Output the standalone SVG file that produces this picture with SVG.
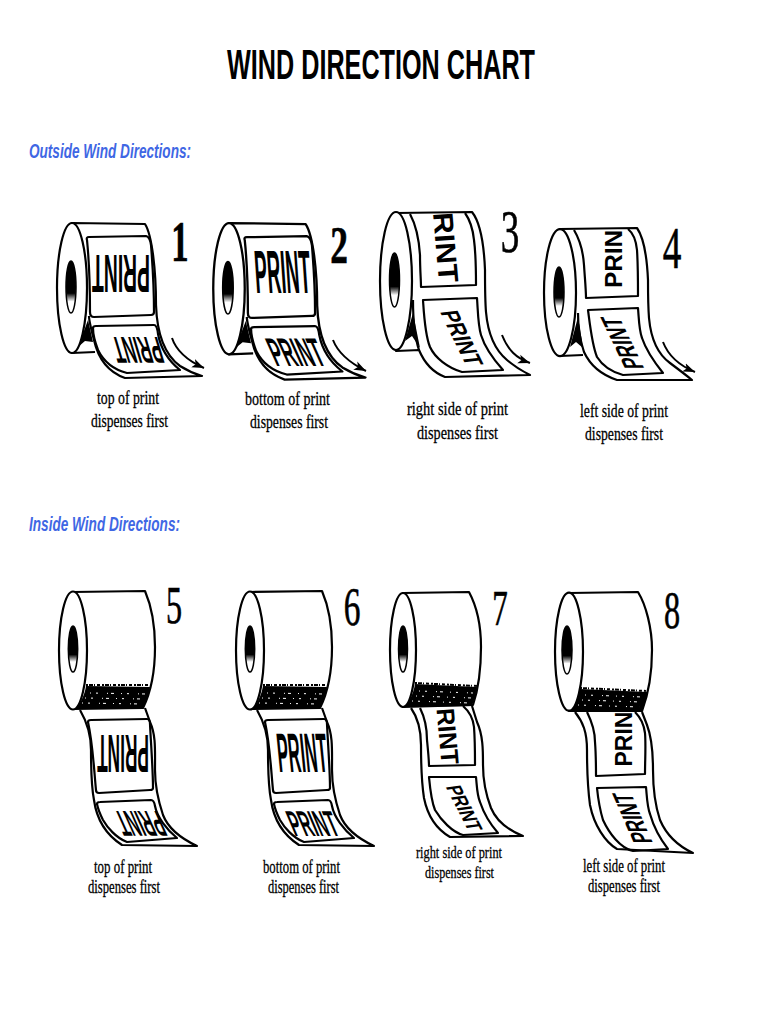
<svg xmlns="http://www.w3.org/2000/svg" width="768" height="1024" viewBox="0 0 768 1024">
<style>
.o{fill:#fff;stroke:#000;stroke-width:2.2;stroke-linejoin:round}
.b{fill:none;stroke:#000;stroke-width:2.2;stroke-linejoin:round}
.s{fill:#000;stroke:none}
.h{fill:url(#hole);stroke:#000;stroke-width:1.5}
.band{fill:#000;stroke:none}
.fz{fill:none;stroke:#000;stroke-width:2;stroke-dasharray:2 1 4 1 1 2 3 2}
.sp{fill:none;stroke:#fff;stroke-width:1;stroke-dasharray:1 5 2 9 1 3 3 7}
.t{font-family:"Liberation Sans",Arial,sans-serif;font-weight:700;font-size:100px;text-anchor:middle;fill:#000}
.l{font-family:"Liberation Serif","Times New Roman",serif;fill:#000;stroke:#000;stroke-width:.3}
.n{font-family:"Liberation Serif","Times New Roman",serif;text-anchor:middle;fill:#000;stroke:#000;stroke-width:.6}
.h1{font-family:"Liberation Sans",Arial,sans-serif;font-weight:700;font-size:42px;fill:#000}
.h2{font-family:"Liberation Sans",Arial,sans-serif;font-weight:700;font-style:italic;font-size:21px;fill:#3f67e4}
.a{fill:none;stroke:#000;stroke-width:2}
</style>
<defs>
<linearGradient id="hole" x1="0" y1="0" x2="0" y2="1"><stop offset="0" stop-color="#000"/><stop offset=".62" stop-color="#000"/><stop offset=".78" stop-color="#fff"/><stop offset="1" stop-color="#fff"/></linearGradient>
<marker id="ah" markerUnits="userSpaceOnUse" markerWidth="14" markerHeight="10" refX="12" refY="5" orient="auto"><path d="M0 0.5L12 5L0 9.5L3 5Z" fill="#000"/></marker>
<g id="ra">
<path class="o" d="M95 352L72 353L72 223L145 224C152 235 156 270 156 305C157 335 165 355 180 366C188 371 195 374 202 376L125 378C108 372 98 358 94 340C90 325 89 320 89 316"/>
<path class="s" d="M88 320L78 347L85 341L93 342Z"/>
<ellipse class="o" cx="72" cy="288" rx="15" ry="65"/>
<ellipse class="h" cx="71" cy="287" rx="5" ry="26"/>
<path class="b" d="M87 240Q86 237 89 237L146 236Q150 237 151 245C153 270 154 295 154 312Q154 315 151 315L94 317Q90 317 90 312C90 285 89 260 87 240Z"/>
<path class="b" d="M93 328Q93 326 96 326L154 325Q157 325 158 334C161 350 170 362 180 370L127 373C115 370 104 362 98 350C95 342 93 335 93 328Z"/>
</g>
<g id="rc">
<path class="o" d="M80 710C87 722 91 735 91 750C91 770 92 790 94 800C97 822 108 836 122 845L197 846C180 838 168 828 163 815C158 800 155 785 155 770C155 750 156 735 150 722L145 708"/>
<path class="o" d="M73 592L145 591C151 605 155 625 155 647C155 670 151 692 143 708L73 709Z"/>
<path class="band" d="M86 686L150 687C149 695 146 702 143 709L76 709C81 702 85 694 86 686Z"/>
<path class="fz" d="M86 685L150 685"/>
<path class="sp" d="M90 693L146 694M85 698L144 699M82 703L142 704"/>
<ellipse class="o" cx="73" cy="650.5" rx="14" ry="59"/>
<ellipse class="h" cx="73" cy="649" rx="4.7" ry="23"/>
<path class="b" d="M88 722Q88 720 91 720L147 719Q150 719 150 724C151 745 153 770 153 788Q153 790 150 790L99 793Q96 793 96 790C94 770 93 745 88 722Z"/>
<path class="b" d="M97 804Q97 802 100 802L151 800Q154 800 155 806C157 817 167 830 177 838L127 842C116 838 107 827 103 820C100 814 98 809 97 804Z"/>
</g>
</defs>

<text class="h1" x="227" y="79" textLength="308" lengthAdjust="spacingAndGlyphs">WIND DIRECTION CHART</text>
<text class="h2" x="29" y="158" textLength="162" lengthAdjust="spacingAndGlyphs">Outside Wind Directions:</text>
<text class="h2" x="29" y="531" textLength="151" lengthAdjust="spacingAndGlyphs">Inside Wind Directions:</text>

<g id="roll-1">
<use href="#ra"/>
<text class="t" transform="matrix(-.193 0 0 -.528 121 255)">PRINT</text>
<text class="t" transform="matrix(-.16 0 -.111 -.375 134 337)">PRINT</text>
<text class="n" font-weight="700" font-size="56" transform="translate(180 261) scale(.62 1)">1</text>
<text class="l" font-size="19" x="97" y="404" textLength="62" lengthAdjust="spacingAndGlyphs">top of print</text>
<text class="l" font-size="19" x="91" y="427" textLength="77" lengthAdjust="spacingAndGlyphs">dispenses first</text>
</g>
<g id="roll-2">
<use href="#ra" transform="translate(153.4 -2.2) scale(1.05 1.01)"/>
<text class="t" transform="matrix(.187 0 .042 .611 284 293)">PRINT</text>
<text class="t" transform="matrix(.173 0 .18 .4 302 366)">PRINT</text>
<text class="n" font-weight="700" font-size="52" transform="translate(339 263) scale(.68 1)">2</text>
<text class="l" font-size="19" x="245" y="405" textLength="85" lengthAdjust="spacingAndGlyphs">bottom of print</text>
<text class="l" font-size="19" x="250" y="428" textLength="78" lengthAdjust="spacingAndGlyphs">dispenses first</text>
</g>
<g id="roll-3">
<path class="o" d="M420 350L396 351L396 213L472 212C480 222 484 245 485 270C485 285 485 300 486 312C488 335 495 350 507 360C514 366 522 371 530 375L445 377C432 372 424 362 419 350C414 335 413 315 413 300"/>
<path class="s" d="M413 313L405 341L412 336L420 348Z"/>
<ellipse class="o" cx="396" cy="281" rx="16" ry="69"/>
<ellipse class="h" cx="394.5" cy="280" rx="5" ry="27"/>
<path class="b" d="M410 214C416 225 419 240 420 255C420 270 421 280 421 287L476 285C476 270 476 255 474 240C473 230 470 220 465 213"/>
<path class="b" d="M423 300L477 298C478 312 478 325 481 335C485 348 494 360 503 370L462 372C448 368 435 358 430 347C425 335 424 315 423 300Z"/>
<text class="t" transform="matrix(.026 .3 -.28 .02 436 248)">RINT</text>
<text class="t" transform="matrix(.089 .183 -.25 .028 453 339)">PRINT</text>
<text class="n" font-size="62" transform="translate(510 252) scale(.6 1)">3</text>
<text class="l" font-size="19" x="407" y="415" textLength="101" lengthAdjust="spacingAndGlyphs">right side of print</text>
<text class="l" font-size="19" x="417" y="439" textLength="81" lengthAdjust="spacingAndGlyphs">dispenses first</text>
</g>
<g id="roll-4">
<path class="o" d="M583 355L560 356L560 229L637 228C644 238 647 258 648 280C648 295 648 305 649 318C651 340 659 355 670 363C678 369 686 375 692 380L617 380C602 375 590 365 584 352C580 340 578 325 578 313"/>
<path class="s" d="M578 317L570 347L576 342L583 348Z"/>
<ellipse class="o" cx="560" cy="292.7" rx="16" ry="63.5"/>
<ellipse class="h" cx="559" cy="292" rx="5" ry="25"/>
<path class="b" d="M574 230C580 240 583 250 584 265C585 280 586 290 586 298L638 296C638 280 638 265 637 250C636 240 633 233 628 229"/>
<path class="b" d="M588 310L638 308C639 320 639 330 642 338C646 350 655 363 663 373L623 375C612 372 602 365 597 357C592 345 590 325 588 310Z"/>
<text class="t" transform="matrix(0 -.243 .236 0 621.7 259)">PRIN</text>
<text class="t" transform="matrix(-.083 -.173 .28 0 632 343)">PRINT</text>
<text class="n" font-size="60" transform="translate(672 268) scale(.62 1)">4</text>
<text class="l" font-size="19" x="580" y="417" textLength="88" lengthAdjust="spacingAndGlyphs">left side of print</text>
<text class="l" font-size="19" x="585" y="440" textLength="78" lengthAdjust="spacingAndGlyphs">dispenses first</text>
</g>
<g id="roll-5">
<use href="#rc"/>
<text class="t" transform="matrix(-.173 0 0 -.528 123 735)">PRINT</text>
<text class="t" transform="matrix(-.15 0 -.162 -.361 135 811)">PRINT</text>
<text class="n" font-size="52" transform="translate(174 623) scale(.62 1)">5</text>
<text class="l" font-size="18" x="94" y="873" textLength="58" lengthAdjust="spacingAndGlyphs">top of print</text>
<text class="l" font-size="18" x="88" y="893" textLength="72" lengthAdjust="spacingAndGlyphs">dispenses first</text>
</g>
<g id="roll-6">
<use href="#rc" transform="translate(177 0)"/>
<text class="t" transform="matrix(.167 0 .055 .555 304 772)">PRINT</text>
<text class="t" transform="matrix(.157 0 .153 .361 318 836)">PRINT</text>
<text class="n" font-size="54" transform="translate(352 625) scale(.62 1)">6</text>
<text class="l" font-size="18" x="263" y="873" textLength="77" lengthAdjust="spacingAndGlyphs">bottom of print</text>
<text class="l" font-size="18" x="268" y="893" textLength="71" lengthAdjust="spacingAndGlyphs">dispenses first</text>
</g>
<g id="roll-7">
<path class="o" d="M411 708C418 718 421 730 421 745C421 765 422 785 424 798C428 818 438 830 450 837L523 836C508 830 496 820 491 808C486 795 483 780 483 765C483 750 483 735 477 722L472 706"/>
<path class="o" d="M403 593L469 592C476 605 481 625 481 647C481 670 478 690 473 705L403 707Z"/>
<path class="band" d="M415 684L477 687C476 694 474 700 472 706L405 707C410 700 414 692 415 684Z"/>
<path class="fz" d="M415 683L477 686"/>
<path class="sp" d="M419 691L473 693M416 696L472 698M412 701L470 703"/>
<ellipse class="o" cx="403" cy="650" rx="13" ry="57"/>
<ellipse class="h" cx="403" cy="649" rx="4.5" ry="23"/>
<path class="b" d="M420 708C425 718 427 728 427 740C428 750 429 760 429 766L475 765C475 752 475 740 474 727C473 718 470 712 463 706"/>
<path class="b" d="M429 777L476 777C477 787 477 795 480 802C484 814 491 825 498 833L463 835C452 832 441 820 435 810C431 800 430 788 429 777Z"/>
<text class="t" transform="matrix(.021 .24 -.25 .02 439 737)">RINT</text>
<text class="t" transform="matrix(.077 .15 -.21 .028 457 809)">PRINT</text>
<text class="n" font-size="50" transform="translate(500 625) scale(.62 1)">7</text>
<text class="l" font-size="17.5" x="416" y="858" textLength="86" lengthAdjust="spacingAndGlyphs">right side of print</text>
<text class="l" font-size="17.5" x="425" y="878" textLength="69" lengthAdjust="spacingAndGlyphs">dispenses first</text>
</g>
<g id="roll-8">
<path class="o" d="M575 712C583 722 587 732 587 750C587 770 588 790 590 805C594 825 605 842 617 849L693 853C678 846 666 834 660 820C655 805 653 790 653 770C653 755 652 738 647 725L642 712"/>
<path class="o" d="M569 593L638 592C646 605 652 628 652 650C652 675 648 695 642 711L569 711Z"/>
<path class="band" d="M580 689L647 692C646 699 644 705 642 712L571 711C576 705 579 697 580 689Z"/>
<path class="fz" d="M580 688L647 691"/>
<path class="sp" d="M585 695L643 697M582 700L641 702M578 705L640 707"/>
<ellipse class="o" cx="569" cy="651.7" rx="14" ry="59"/>
<ellipse class="h" cx="567" cy="650" rx="5" ry="24"/>
<path class="b" d="M587 712C592 722 595 730 595 742C596 755 596 768 596 776L645 774C645 760 646 745 645 733C644 725 640 717 635 712"/>
<path class="b" d="M597 788L646 787C647 797 647 806 650 814C654 828 661 840 668 849L633 851C620 848 609 833 603 820C600 810 598 798 597 788Z"/>
<text class="t" transform="matrix(0 -.23 .236 0 631.7 739)">PRIN</text>
<text class="t" transform="matrix(-.073 -.167 .278 0 642 818)">PRINT</text>
<text class="n" font-size="52" transform="translate(672 628) scale(.62 1)">8</text>
<text class="l" font-size="18" x="583" y="872" textLength="82" lengthAdjust="spacingAndGlyphs">left side of print</text>
<text class="l" font-size="18" x="588" y="892" textLength="72" lengthAdjust="spacingAndGlyphs">dispenses first</text>
</g>
<g id="connectors">
<path class="a" marker-end="url(#ah)" d="M172 338C176 350 186 360 204 368"/>
<path class="a" marker-end="url(#ah)" d="M333 340C338 353 350 363 366 371"/>
<path class="a" marker-end="url(#ah)" d="M502 335C508 350 516 358 530 363"/>
<path class="a" marker-end="url(#ah)" d="M663 342C668 355 678 365 695 372"/>
</g>
</svg>
